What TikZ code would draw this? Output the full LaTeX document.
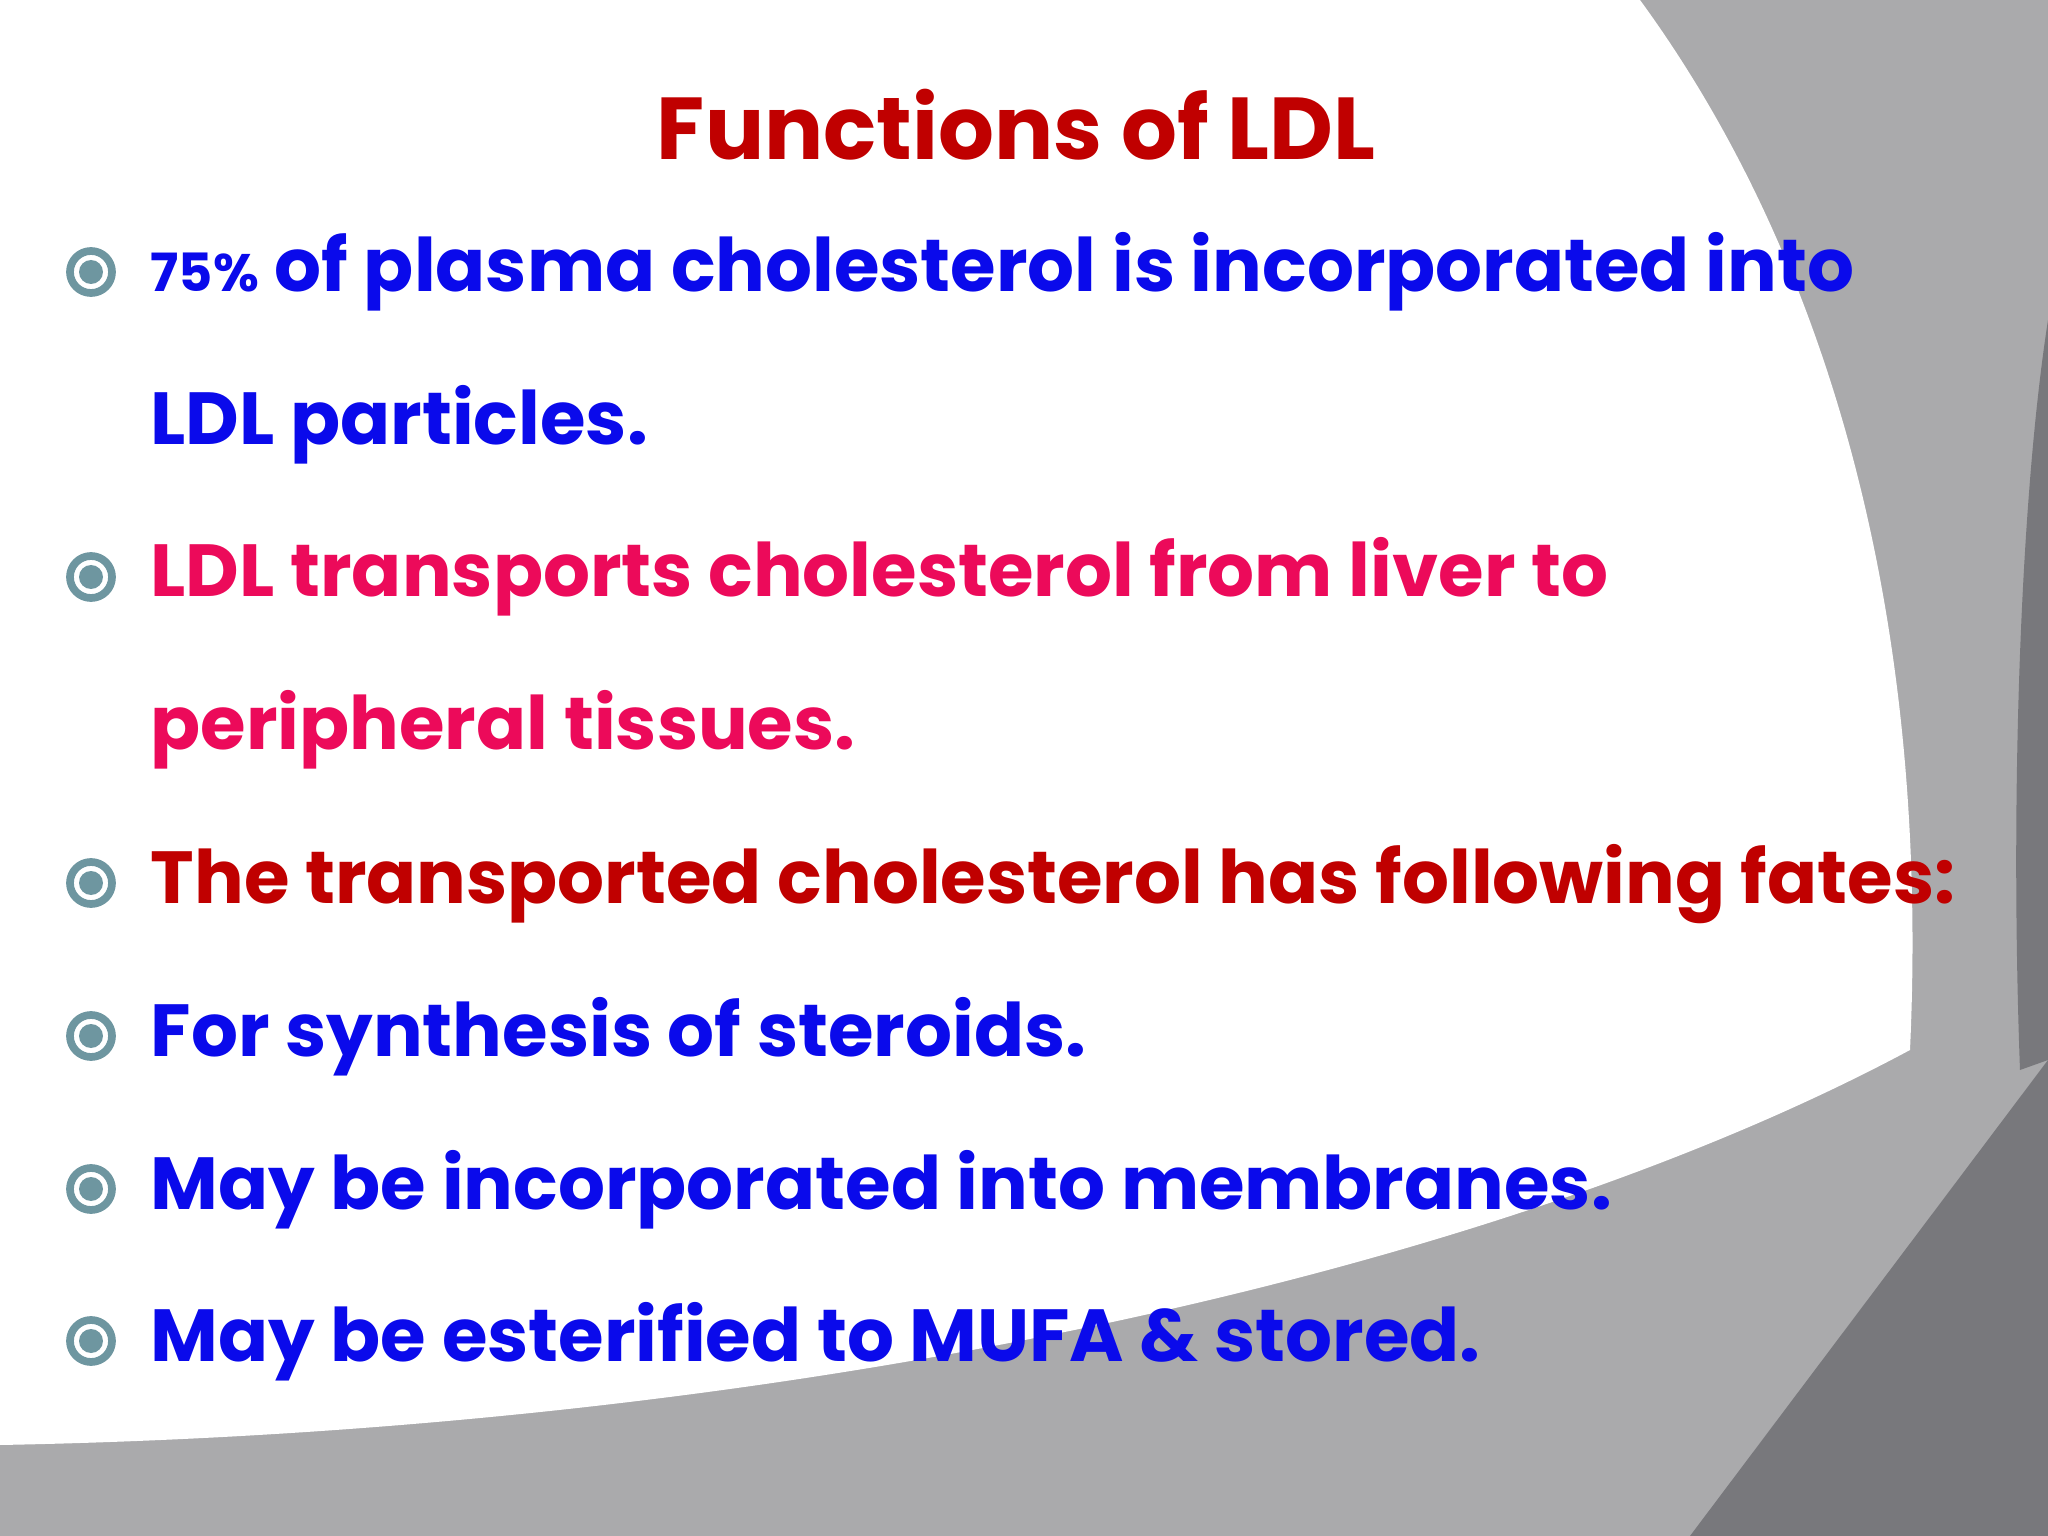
\documentclass[tikz,border=0pt]{standalone}
\usepackage{fontspec}
\setmainfont{Poppins}
\definecolor{tblue}{RGB}{10,10,235}
\definecolor{tpink}{RGB}{236,10,90}
\definecolor{tred}{RGB}{192,0,0}
\definecolor{bul}{RGB}{110,150,160}
\definecolor{gmid}{RGB}{170,170,172}
\definecolor{gdark}{RGB}{120,120,124}
\begin{document}
\begin{tikzpicture}[x=1cm,y=1cm,
  line/.style={anchor=base west,font=\bfseries\fontsize{21}{25}\selectfont,inner sep=0},
  bull/.style={circle,draw=bul,line width=2.2pt,minimum size=0.42cm,inner sep=0,
     path picture={\fill[bul] (path picture bounding box.center) circle (0.12cm);}}]
\useasboundingbox (0,0) rectangle (20.48,-15.36);
\fill[gmid] (0,0) rectangle (20.48,-15.36);
\fill[gdark] (20.48,-3.2) .. controls (20.2,-5) and (20.1,-8) .. (20.2,-10.7) -- (20.48,-10.6) -- cycle;
\fill[gdark] (20.48,-10.6) -- (20.48,-15.36) -- (16.9,-15.36) -- cycle;
\fill[white] (0,0) -- (16.4,0) .. controls (18.3,-2.6) and (19.3,-6.2) .. (19.1,-10.5)
  .. controls (15,-12.7) and (8,-14.3) .. (0,-14.45) -- cycle;
\node[font=\bfseries\fontsize{25}{30}\selectfont,text=tred,anchor=base] (title) at (10.16,-1.6) {Functions of LDL};
\foreach \y/\n in {2.72/b1,5.77/b2,8.83/b3,10.36/b4,11.89/b5,13.41/b6}
  \node[bull] (\n) at (0.91,-\y) {};
\node[line,text=tblue] (l1) at (1.5,-2.92) {{\fontsize{15}{18}\selectfont 75\%} of plasma cholesterol is incorporated into};
\node[line,text=tblue] (l2) at (1.5,-4.45) {LDL particles.};
\node[line,text=tpink] (l3) at (1.5,-5.97) {LDL transports cholesterol from liver to};
\node[line,text=tpink] (l4) at (1.5,-7.49) {peripheral tissues.};
\node[line,text=tred] (l5) at (1.5,-9.03) {The transported cholesterol has following fates:};
\node[line,text=tblue] (l6) at (1.5,-10.56) {For synthesis of steroids.};
\node[line,text=tblue] (l7) at (1.5,-12.09) {May be incorporated into membranes.};
\node[line,text=tblue] (l8) at (1.5,-13.61) {May be esterified to MUFA \& stored.};
\end{tikzpicture}
\end{document}
